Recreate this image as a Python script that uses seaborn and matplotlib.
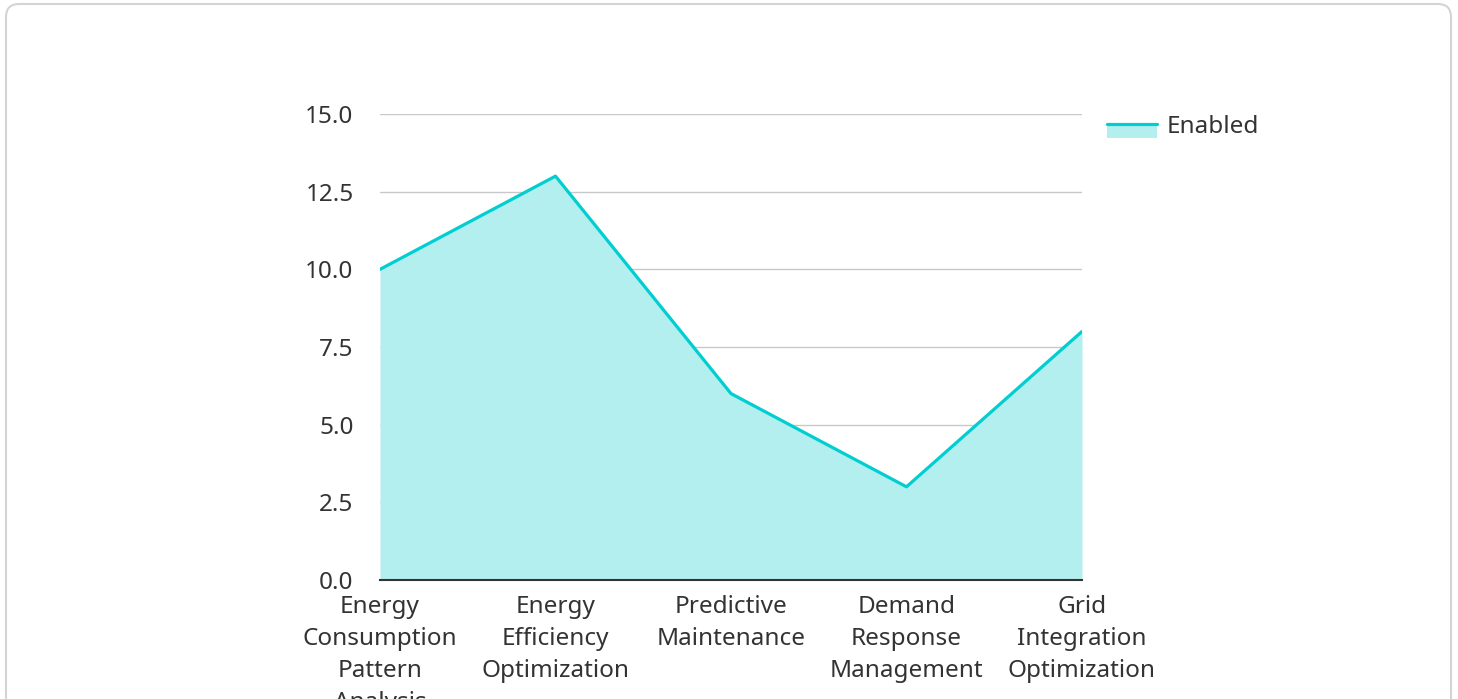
import matplotlib
matplotlib.use("Agg")
import matplotlib.pyplot as plt
import seaborn as sns
import pandas as pd
from matplotlib.patches import Rectangle, FancyBboxPatch
from matplotlib.lines import Line2D
from matplotlib.legend_handler import HandlerBase

categories = ["Energy Consumption Pattern Analysis", "Energy Efficiency Optimization",
              "Predictive Maintenance", "Demand Response Management", "Grid Integration Optimization"]
tick_labels = ["Energy\nConsumption\nPattern\nAnalysis", "Energy\nEfficiency\nOptimization",
               "Predictive\nMaintenance", "Demand\nResponse\nManagement", "Grid\nIntegration\nOptimization"]
values = [10, 13, 6, 3, 8]
series_name = "Enabled"
y_ticks = [0, 2.5, 5.0, 7.5, 10.0, 12.5, 15.0]

LINE = "#00CED1"
FILL = "#B2EFEE"
TEXT = "#333333"
FS = 17.5

sns.set_theme(style="white")
plt.rcParams['font.family'] = ['Noto Sans', 'DejaVu Sans']

fig = plt.figure(figsize=(14.58, 6.99), dpi=100)
ax = fig.add_axes([380/1458, 1-580/699, (1082-380)/1458, (580-114)/699])

df = pd.DataFrame({"x": list(range(len(categories))), "y": values})
sns.lineplot(data=df, x="x", y="y", ax=ax, color=LINE, linewidth=2.3, zorder=3)
ax.fill_between(df["x"], 0, df["y"], color=FILL, linewidth=0, zorder=2)

ax.set_xlim(0, len(categories) - 1)
ax.set_ylim(0, 15)
ax.set_yticks(y_ticks)
ax.set_yticklabels([f"{t:.1f}" for t in y_ticks])
ax.set_xticks(range(len(categories)))
ax.set_xticklabels(tick_labels, linespacing=1.445)
ax.tick_params(axis="both", length=0, labelsize=FS, labelcolor=TEXT)
ax.tick_params(axis="y", pad=19)
ax.tick_params(axis="x", pad=10.5)
ax.set_xlabel("")
ax.set_ylabel("")
ax.grid(axis="y", color="#C8C8C8", linewidth=1, zorder=1)
ax.set_axisbelow(True)
for s in ["top", "right", "left"]:
    ax.spines[s].set_visible(False)
ax.spines["bottom"].set_color("#333333")
ax.spines["bottom"].set_linewidth(1.5)
ax.spines["bottom"].set_zorder(4)


class AreaHandler(HandlerBase):
    def create_artists(self, legend, orig_handle, xdescent, ydescent, width, height, fontsize, trans):
        y = -ydescent + height / 2
        r = Rectangle((-xdescent, y - 9.5), width, 9.5, facecolor=FILL, edgecolor="none", transform=trans)
        l = Line2D([-xdescent, -xdescent + width], [y, y], color=LINE, linewidth=2.3, transform=trans)
        return [r, l]


proxy = Rectangle((0, 0), 1, 1)
leg = fig.legend([proxy], [series_name], handler_map={Rectangle: AreaHandler()},
                 loc="center left", bbox_to_anchor=(1107/1458, 1-127/699), frameon=False,
                 fontsize=FS, handlelength=2.05, handletextpad=0.4, borderaxespad=0, borderpad=0)
for t in leg.get_texts():
    t.set_color(TEXT)

card = FancyBboxPatch((6/1458, -0.1), (1451-6)/1458, 1.1 - 4/699,
                      boxstyle="round,pad=0,rounding_size=0.009", transform=fig.transFigure,
                      facecolor="none", edgecolor="#D4D4D4", linewidth=1.5, mutation_aspect=1458/699)
fig.patches.append(card)

fig.savefig("out.png", dpi=100)
